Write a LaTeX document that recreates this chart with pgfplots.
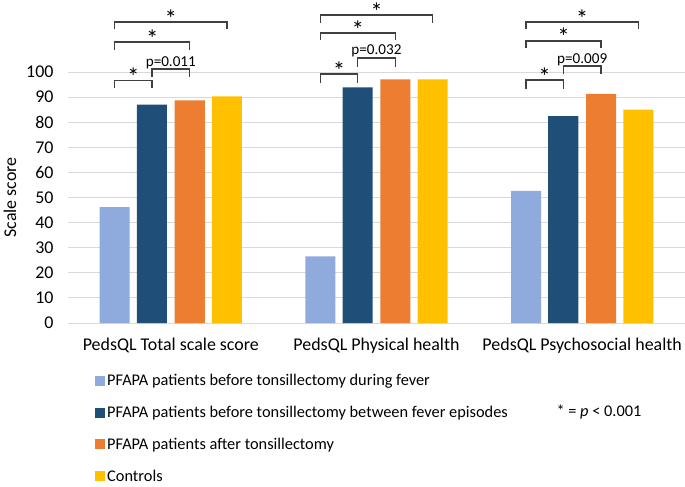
\documentclass[border=0pt]{standalone}
\usepackage{fontspec}
\setmainfont{Carlito}
\usepackage{pgfplots}
\pgfplotsset{compat=1.18}
\definecolor{c1}{HTML}{8FAADC}
\definecolor{c2}{HTML}{1F4E79}
\definecolor{c3}{HTML}{ED7D31}
\definecolor{c4}{HTML}{FFC000}
\definecolor{gridc}{HTML}{D9D9D9}
\definecolor{brk}{HTML}{404040}
\pgfplotsset{sq legend/.style={legend image code/.code={\path[##1] (0bp,-5bp) rectangle (10bp,5bp);}}}
% bracket: x1, x2, leg y, top y, label x, label, label yshift
\newcommand{\brk}[7]{%
  \addplot[sharp plot, brk, line width=1.3bp, mark=none, forget plot] coordinates {(#1,#3) (#1,#4) (#2,#4) (#2,#3)};
  \node[anchor=base, inner sep=0pt, text=black, yshift=#7] at (axis cs:#5,#4) {#6};
}
\newcommand{\st}{\fontsize{25}{25}\selectfont *}
\newcommand{\pv}[1]{\fontsize{15.2}{16}\selectfont p=#1}
\begin{document}
\begin{tikzpicture}
\useasboundingbox (0bp,0bp) rectangle (685bp,487bp);
\begin{axis}[
  at={(68bp,164bp)}, anchor=south west,
  scale only axis, width=617bp, height=323bp,
  xmin=-0.5, xmax=2.5, ymin=0, ymax=128.7,
  axis x line*=bottom, axis y line*=left,
  x axis line style={-, draw=gridc, line width=1bp},
  y axis line style={draw=none},
  major tick length=0pt,
  xtick={0,1,2},
  xticklabels={PedsQL Total scale score, PedsQL Physical health, PedsQL Psychosocial health},
  ytick={0,10,...,100},
  ymajorgrids, grid style={gridc, line width=1bp},
  ticklabel style={font=\fontsize{18}{20}\selectfont},
  xticklabel style={yshift=-12bp},
  yticklabel style={xshift=-11bp},
  /pgf/number format/assume math mode=true,
  ylabel={Scale score},
  ylabel style={font=\fontsize{18}{20}\selectfont, at={(axis description cs:-0.094,0.3885)}, anchor=center},
  clip=false,
  legend style={at={(0.039,-0.146)}, anchor=north west, draw=none, fill=none,
    font=\fontsize{16.4}{18}\selectfont, row sep=15bp},
  legend cell align=left,
]
\addplot[ybar, bar width=0.146, bar shift=-0.273, fill=c1, draw=none, sq legend] coordinates {(0,46.2) (1,26.5) (2,52.6)};
\addlegendentry{PFAPA patients before tonsillectomy during fever}
\addplot[ybar, bar width=0.146, bar shift=-0.092, fill=c2, draw=none, sq legend] coordinates {(0,87.0) (1,93.9) (2,82.4)};
\addlegendentry{PFAPA patients before tonsillectomy between fever episodes}
\addplot[ybar, bar width=0.146, bar shift=0.092, fill=c3, draw=none, sq legend] coordinates {(0,88.7) (1,97.1) (2,91.3)};
\addlegendentry{PFAPA patients after tonsillectomy}
\addplot[ybar, bar width=0.146, bar shift=0.273, fill=c4, draw=none, sq legend] coordinates {(0,90.3) (1,97.1) (2,85.0)};
\addlegendentry{Controls}

% group 1
\brk{-0.273}{-0.092}{93.6}{96.6}{-0.1825}{\st}{-5bp}
\brk{-0.092}{0.092}{98.0}{101.2}{0}{\pv{0.011}}{3bp}
\brk{-0.273}{0.092}{108.8}{112.0}{-0.0905}{\st}{-6bp}
\brk{-0.273}{0.273}{117.1}{119.9}{0}{\st}{-5bp}
% group 2
\brk{0.727}{0.908}{95.6}{99.2}{0.8175}{\st}{-5bp}
\brk{0.908}{1.092}{102.0}{105.6}{1}{\pv{0.032}}{3bp}
\brk{0.727}{1.092}{112.7}{115.5}{0.9095}{\st}{-5bp}
\brk{0.727}{1.273}{119.5}{122.7}{1}{\st}{-5bp}
% group 3
\brk{1.727}{1.908}{93.2}{96.8}{1.8175}{\st}{-5bp}
\brk{1.908}{2.092}{99.2}{102.4}{2}{\pv{0.009}}{3bp}
\brk{1.727}{2.092}{109.6}{112.4}{1.9095}{\st}{-5bp}
\brk{1.727}{2.273}{117.1}{119.9}{2}{\st}{-5bp}
\end{axis}
\node[anchor=west, font=\fontsize{16.4}{18}\selectfont] at (553bp,75bp) {* = \textit{p} < 0.001};
\end{tikzpicture}
\end{document}
